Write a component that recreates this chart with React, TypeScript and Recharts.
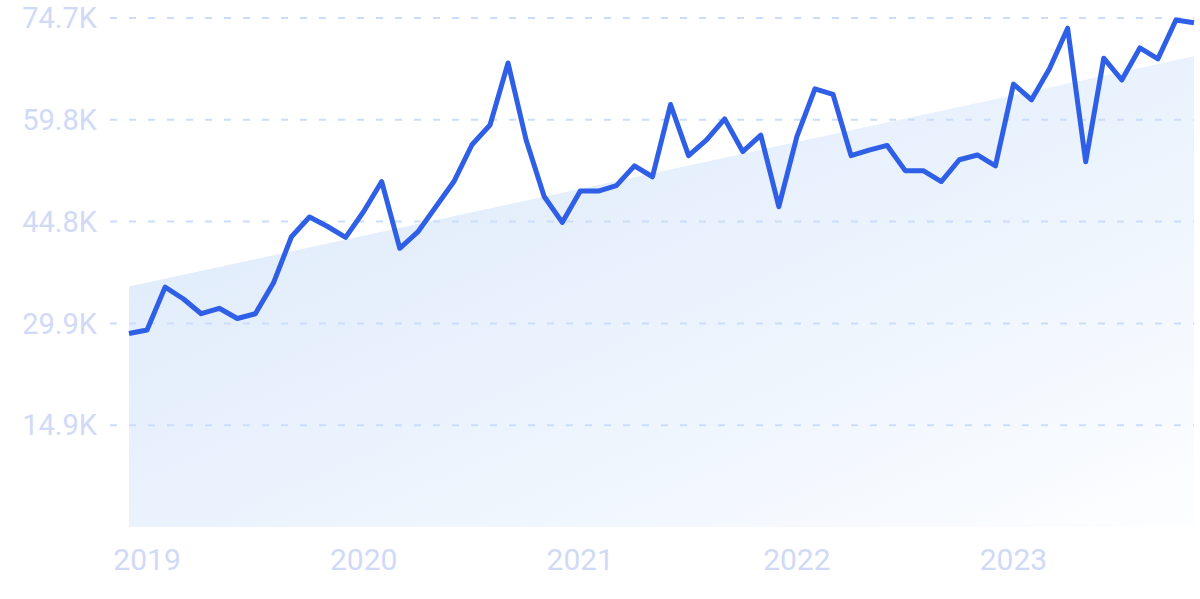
import { ComposedChart, Line, Area, XAxis, YAxis, ReferenceLine } from "recharts"

// Monthly values, Dec 2018 .. Nov 2023
const MONTHS = [
  "2018-12",
  "2019-01", "2019-02", "2019-03", "2019-04", "2019-05", "2019-06",
  "2019-07", "2019-08", "2019-09", "2019-10", "2019-11", "2019-12",
  "2020-01", "2020-02", "2020-03", "2020-04", "2020-05", "2020-06",
  "2020-07", "2020-08", "2020-09", "2020-10", "2020-11", "2020-12",
  "2021-01", "2021-02", "2021-03", "2021-04", "2021-05", "2021-06",
  "2021-07", "2021-08", "2021-09", "2021-10", "2021-11", "2021-12",
  "2022-01", "2022-02", "2022-03", "2022-04", "2022-05", "2022-06",
  "2022-07", "2022-08", "2022-09", "2022-10", "2022-11", "2022-12",
  "2023-01", "2023-02", "2023-03", "2023-04", "2023-05", "2023-06",
  "2023-07", "2023-08", "2023-09", "2023-10", "2023-11",
]

const SEARCHES = [
  28400,
  28900, 35200, 33500, 31300, 32100, 30600, 31300, 35800, 42600, 45500, 44100, 42500,
  46300, 50700, 40900, 43300, 47000, 50700, 56100, 59000, 68100, 56800, 48500, 44700,
  49300, 49300, 50100, 53000, 51400, 62000, 54500, 56800, 59900, 55100, 57500, 47000,
  57300, 64300, 63500, 54500, 55300, 56000, 52300, 52300, 50700, 53900, 54600, 53000,
  65000, 62700, 67300, 73200, 53600, 68800, 65600, 70300, 68700, 74400, 74000,
]

// trend band: only the two end values, joined straight
const TREND_START = 35300
const TREND_END = 69100

const YEAR_LABELS = ["2019", "2020", "2021", "2022", "2023"]
const Y_TICKS = [14940, 29880, 44820, 59760, 74700]

const chartData = MONTHS.map((month, i) => ({
  i,
  month,
  searches: SEARCHES[i],
  trend: i === 0 ? TREND_START : i === MONTHS.length - 1 ? TREND_END : null,
}))

const xTicks = YEAR_LABELS.map((y) => MONTHS.indexOf(`${y}-01`))

const LABEL_COLOR = "#d0daf6"

export default function App() {
  return (
    <div style={{ position: "absolute", left: 0, top: 0, background: "#fff" }}>
      <ComposedChart
        width={1200}
        height={599}
        data={chartData}
        margin={{ top: 18, right: 6, left: 0, bottom: 0 }}
      >
        <defs>
          <linearGradient id="trendFill" x1="0" y1="0" x2="1" y2="1">
            <stop offset="0%" stopColor="#dbe8fa" />
            <stop offset="55%" stopColor="#ebf3fd" />
            <stop offset="100%" stopColor="#fdfeff" />
          </linearGradient>
        </defs>
        <XAxis
          dataKey="i"
          type="number"
          domain={[0, MONTHS.length - 1]}
          ticks={xTicks}
          tickFormatter={(i: number) => MONTHS[i].slice(0, 4)}
          padding={{ left: 19, right: 0 }}
          axisLine={false}
          tickLine={false}
          height={72}
          tickMargin={16}
          tick={{ fill: LABEL_COLOR, fontSize: 30, fontFamily: "Roboto" }}
        />
        <YAxis
          type="number"
          domain={[0, 74700]}
          ticks={Y_TICKS}
          tickFormatter={(v: number) => `${(v / 1000).toFixed(1)}K`}
          axisLine={false}
          tickLine={false}
          width={110}
          tickMargin={7}
          tick={{ fill: LABEL_COLOR, fontSize: 29, fontFamily: "Roboto" }}
        />
        <Area
          dataKey="trend"
          type="linear"
          connectNulls
          stroke="none"
          fill="url(#trendFill)"
          fillOpacity={1}
          isAnimationActive={false}
          baseValue={0}
        />
        {/* dashed guides drawn over the trend band */}
        {Y_TICKS.map((v) => (
          <ReferenceLine
            key={v}
            y={v}
            stroke="#cbddfa"
            strokeWidth={2}
            strokeDasharray="7 12"
          />
        ))}
        <Line
          dataKey="searches"
          type="linear"
          stroke="#2e5fe6"
          strokeWidth={5}
          strokeLinejoin="round"
          dot={false}
          activeDot={false}
          isAnimationActive={false}
        />
      </ComposedChart>
    </div>
  )
}
